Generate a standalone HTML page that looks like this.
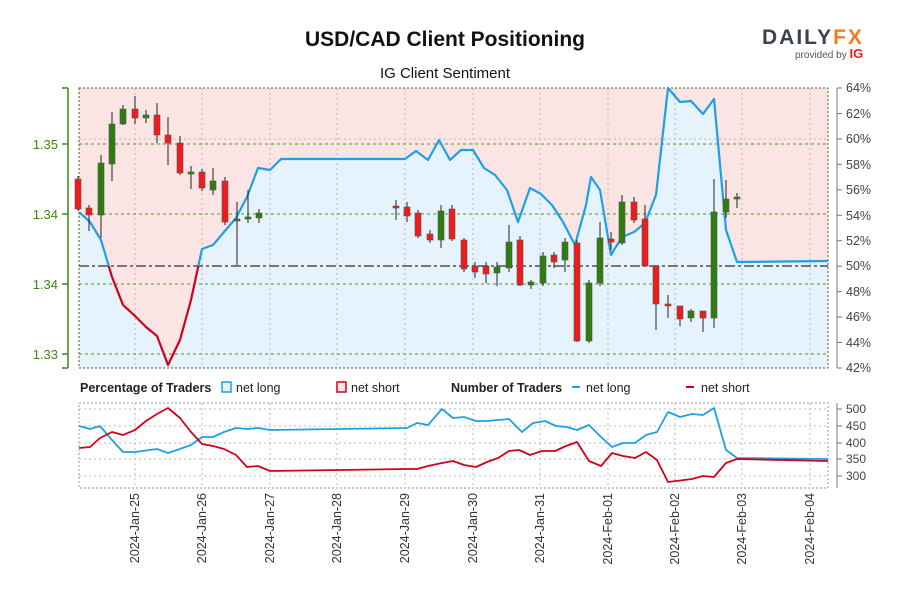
<!DOCTYPE html>
<html><head><meta charset="utf-8"><style>
body{margin:0;background:#fff;}
svg{display:block;font-family:"Liberation Sans Narrow","Liberation Sans",sans-serif;}
</style></head><body>
<svg width="900" height="600" viewBox="0 0 900 600" xmlns="http://www.w3.org/2000/svg">
<defs>
<clipPath id="above"><rect x="79" y="80" width="750" height="186"/></clipPath>
<clipPath id="below"><rect x="79" y="266" width="750" height="110"/></clipPath>
</defs>
<text x="445" y="46" text-anchor="middle" font-family="Liberation Sans,sans-serif" font-weight="bold" font-size="21" fill="#111">USD/CAD Client Positioning</text>
<text x="445" y="78" text-anchor="middle" font-family="Liberation Sans,sans-serif" font-size="15" fill="#111">IG Client Sentiment</text>
<text x="762" y="44" font-family="Liberation Sans,sans-serif" font-weight="bold" font-size="21" fill="#3c4250" letter-spacing="2">DAILY<tspan fill="#f47b20">FX</tspan></text>
<text x="795" y="58" font-family="Liberation Sans,sans-serif" font-size="10" fill="#555">provided by <tspan fill="#e2231a" font-weight="bold" font-size="13">IG</tspan></text>

<!-- main plot -->
<rect x="79" y="88" width="749" height="280" fill="#fbe4e4"/>
<polygon fill="#e6f3fc" points="79,212 90,222 101,240 112,277 123,305 135,316 146,327 157,336 168,365 180,340 191,300 202,249 213,245 224,232 236,218 247,197 258,168 270,170 281,159 405,159 416,151 428,160 439,140 450,160 461,150 473,150 484,168 495,175 507,190 518,222 530,188 541,194 552,205 563,222 575,245 586,205 591,177 600,190 611,255 622,237 634,232 645,223 656,195 668,88 680,102 691,101 703,114 714,99 726,230 737,262 828,261 828,368 79,368"/>
<g stroke="#bbb" stroke-dasharray="2,3" stroke-width="1">
<line x1="135" y1="88" x2="135" y2="368"/><line x1="202" y1="88" x2="202" y2="368"/><line x1="270" y1="88" x2="270" y2="368"/><line x1="337" y1="88" x2="337" y2="368"/><line x1="405" y1="88" x2="405" y2="368"/><line x1="473" y1="88" x2="473" y2="368"/><line x1="540" y1="88" x2="540" y2="368"/><line x1="608" y1="88" x2="608" y2="368"/><line x1="675" y1="88" x2="675" y2="368"/><line x1="742" y1="88" x2="742" y2="368"/><line x1="810" y1="88" x2="810" y2="368"/>
<line x1="79" y1="139" x2="828" y2="139"/>
</g>
<g stroke="#4a9a1a" stroke-dasharray="3,3" stroke-width="1">
<line x1="79" y1="144" x2="828" y2="144"/><line x1="79" y1="214" x2="828" y2="214"/><line x1="79" y1="284" x2="828" y2="284"/><line x1="79" y1="354" x2="828" y2="354"/>
</g>
<rect x="79" y="88" width="749" height="280" fill="none" stroke="#3a6a1a" stroke-dasharray="2,2" stroke-width="1"/>
<line x1="79" y1="266" x2="828" y2="266" stroke="#777" stroke-width="2" stroke-dasharray="10,3,3,3"/>
<g fill="none" stroke-width="2.2" stroke-linejoin="round">
<polyline clip-path="url(#above)" stroke="#1fa0e6" points="79,212 90,222 101,240 112,277 123,305 135,316 146,327 157,336 168,365 180,340 191,300 202,249 213,245 224,232 236,218 247,197 258,168 270,170 281,159 405,159 416,151 428,160 439,140 450,160 461,150 473,150 484,168 495,175 507,190 518,222 530,188 541,194 552,205 563,222 575,245 586,205 591,177 600,190 611,255 622,237 634,232 645,223 656,195 668,88 680,102 691,101 703,114 714,99 726,230 737,262 828,261"/>
<polyline clip-path="url(#below)" stroke="#d0021b" points="79,212 90,222 101,240 112,277 123,305 135,316 146,327 157,336 168,365 180,340 191,300 202,249 213,245 224,232 236,218 247,197 258,168 270,170 281,159 405,159 416,151 428,160 439,140 450,160 461,150 473,150 484,168 495,175 507,190 518,222 530,188 541,194 552,205 563,222 575,245 586,205 591,177 600,190 611,255 622,237 634,232 645,223 656,195 668,88 680,102 691,101 703,114 714,99 726,230 737,262 828,261"/>
</g>
<!-- candles -->
<g stroke="#222" stroke-width="1">
<line x1="78" y1="176" x2="78" y2="211"/><line x1="89" y1="205" x2="89" y2="231"/><line x1="101" y1="155" x2="101" y2="238"/><line x1="112" y1="112" x2="112" y2="181"/><line x1="123" y1="105" x2="123" y2="125"/><line x1="135" y1="96" x2="135" y2="124"/><line x1="146" y1="110" x2="146" y2="123"/><line x1="157" y1="103" x2="157" y2="143"/><line x1="168" y1="117" x2="168" y2="165"/><line x1="180" y1="136" x2="180" y2="175"/><line x1="191" y1="166" x2="191" y2="189"/><line x1="202" y1="169" x2="202" y2="191"/><line x1="213" y1="168" x2="213" y2="195"/><line x1="225" y1="177" x2="225" y2="225"/><line x1="237" y1="202" x2="237" y2="265"/><line x1="248" y1="190" x2="248" y2="223"/><line x1="259" y1="209" x2="259" y2="223"/>
<line x1="396" y1="200" x2="396" y2="220"/><line x1="407" y1="202" x2="407" y2="222"/><line x1="418" y1="210" x2="418" y2="238"/><line x1="430" y1="230" x2="430" y2="243"/><line x1="441" y1="205" x2="441" y2="248"/><line x1="452" y1="205" x2="452" y2="241"/><line x1="464" y1="238" x2="464" y2="272"/><line x1="475" y1="262" x2="475" y2="278"/><line x1="486" y1="262" x2="486" y2="283"/><line x1="497" y1="262" x2="497" y2="286"/><line x1="509" y1="225" x2="509" y2="272"/><line x1="520" y1="236" x2="520" y2="286"/><line x1="531" y1="280" x2="531" y2="289"/><line x1="543" y1="252" x2="543" y2="286"/><line x1="554" y1="252" x2="554" y2="268"/><line x1="565" y1="238" x2="565" y2="272"/><line x1="577" y1="240" x2="577" y2="342"/><line x1="589" y1="280" x2="589" y2="343"/><line x1="600" y1="222" x2="600" y2="286"/><line x1="611" y1="232" x2="611" y2="250"/><line x1="622" y1="195" x2="622" y2="245"/><line x1="634" y1="197" x2="634" y2="223"/><line x1="645" y1="205" x2="645" y2="266"/><line x1="656" y1="266" x2="656" y2="330"/><line x1="668" y1="295" x2="668" y2="318"/><line x1="680" y1="306" x2="680" y2="326"/><line x1="691" y1="309" x2="691" y2="322"/><line x1="703" y1="311" x2="703" y2="332"/><line x1="714" y1="179" x2="714" y2="328"/><line x1="726" y1="180" x2="726" y2="218"/><line x1="737" y1="193" x2="737" y2="208"/>
</g>
<g stroke="#555" stroke-width="0.6">
<g fill="#ee1c1c">
<rect x="75" y="179" width="6" height="30"/><rect x="86" y="208" width="6" height="7"/><rect x="132" y="109" width="6" height="9"/><rect x="154" y="115" width="6" height="20"/><rect x="165" y="135" width="6" height="8"/><rect x="177" y="143" width="6" height="30"/><rect x="199" y="172" width="6" height="16"/><rect x="222" y="181" width="6" height="41"/>
<rect x="393" y="206" width="6" height="2"/><rect x="404" y="207" width="6" height="9"/><rect x="415" y="213" width="6" height="23"/><rect x="427" y="234" width="6" height="6"/><rect x="449" y="209" width="6" height="30"/><rect x="461" y="240" width="6" height="29"/><rect x="472" y="266" width="6" height="6"/><rect x="483" y="266" width="6" height="8"/><rect x="517" y="240" width="6" height="45"/><rect x="551" y="255" width="6" height="7"/><rect x="574" y="243" width="6" height="98"/><rect x="608" y="239" width="6" height="3"/><rect x="631" y="202" width="6" height="18"/><rect x="642" y="219" width="6" height="47"/><rect x="653" y="266" width="6" height="38"/><rect x="665" y="304" width="6" height="2"/><rect x="677" y="306" width="6" height="13"/><rect x="700" y="311" width="6" height="7"/>
</g>
<g fill="#2e7d0e">
<rect x="98" y="163" width="6" height="52"/><rect x="109" y="124" width="6" height="40"/><rect x="120" y="109" width="6" height="15"/><rect x="143" y="115" width="6" height="3"/><rect x="188" y="172" width="6" height="2"/><rect x="210" y="181" width="6" height="9"/><rect x="234" y="219" width="6" height="2"/><rect x="245" y="217" width="6" height="2"/><rect x="256" y="213" width="6" height="5"/>
<rect x="438" y="211" width="6" height="29"/><rect x="494" y="267" width="6" height="6"/><rect x="506" y="242" width="6" height="26"/><rect x="528" y="282" width="6" height="3"/><rect x="540" y="256" width="6" height="27"/><rect x="562" y="242" width="6" height="18"/><rect x="586" y="283" width="6" height="58"/><rect x="597" y="238" width="6" height="45"/><rect x="619" y="202" width="6" height="41"/><rect x="688" y="311" width="6" height="7"/><rect x="711" y="212" width="6" height="106"/><rect x="723" y="199" width="6" height="13"/><rect x="734" y="197" width="6" height="2"/>
</g></g>
<!-- left axis -->
<g stroke="#3a8a12" stroke-width="1.5"><line x1="68" y1="88" x2="68" y2="368"/><line x1="62" y1="88" x2="68" y2="88"/><line x1="62" y1="368" x2="68" y2="368"/><line x1="62" y1="144" x2="68" y2="144"/><line x1="62" y1="214" x2="68" y2="214"/><line x1="62" y1="284" x2="68" y2="284"/><line x1="62" y1="354" x2="68" y2="354"/></g>
<g fill="#3a8a12" font-size="13" text-anchor="end"><text x="58" y="149">1.35</text><text x="58" y="219">1.34</text><text x="58" y="289">1.34</text><text x="58" y="359">1.33</text></g>
<!-- right axis -->
<g stroke="#777" stroke-width="1"><line x1="837" y1="88" x2="837" y2="368"/>
<line x1="837" y1="88" x2="842" y2="88"/><line x1="837" y1="113.5" x2="842" y2="113.5"/><line x1="837" y1="139" x2="842" y2="139"/><line x1="837" y1="164.4" x2="842" y2="164.4"/><line x1="837" y1="189.8" x2="842" y2="189.8"/><line x1="837" y1="215.3" x2="842" y2="215.3"/><line x1="837" y1="240.7" x2="842" y2="240.7"/><line x1="837" y1="266.2" x2="842" y2="266.2"/><line x1="837" y1="291.6" x2="842" y2="291.6"/><line x1="837" y1="317" x2="842" y2="317"/><line x1="837" y1="342.5" x2="842" y2="342.5"/><line x1="837" y1="368" x2="842" y2="368"/></g>
<g fill="#444" font-size="12.5"><text x="846" y="92">64%</text><text x="846" y="118">62%</text><text x="846" y="143">60%</text><text x="846" y="169">58%</text><text x="846" y="194">56%</text><text x="846" y="220">54%</text><text x="846" y="245">52%</text><text x="846" y="270">50%</text><text x="846" y="296">48%</text><text x="846" y="321">46%</text><text x="846" y="347">44%</text><text x="846" y="372">42%</text></g>

<!-- legend -->
<g font-size="12.5" fill="#222">
<text x="80" y="392" font-weight="bold">Percentage of Traders</text>
<rect x="222" y="382" width="9" height="10" fill="#e6f3fc" stroke="#1fa0e6" stroke-width="1.5"/><text x="236" y="392">net long</text>
<rect x="337" y="382" width="9" height="10" fill="#fbe4e4" stroke="#d0021b" stroke-width="1.5"/><text x="351" y="392">net short</text>
<text x="451" y="392" font-weight="bold">Number of Traders</text>
<line x1="572" y1="387" x2="580" y2="387" stroke="#1fa0e6" stroke-width="2"/><text x="586" y="392">net long</text>
<line x1="686" y1="387" x2="694" y2="387" stroke="#d0021b" stroke-width="2"/><text x="701" y="392">net short</text>
</g>

<!-- bottom chart -->
<g stroke="#bbb" stroke-dasharray="2,3" stroke-width="1">
<line x1="79" y1="409" x2="828" y2="409"/><line x1="79" y1="426" x2="828" y2="426"/><line x1="79" y1="443" x2="828" y2="443"/><line x1="79" y1="459" x2="828" y2="459"/><line x1="79" y1="476" x2="828" y2="476"/>
<line x1="135" y1="403" x2="135" y2="488"/><line x1="202" y1="403" x2="202" y2="488"/><line x1="270" y1="403" x2="270" y2="488"/><line x1="337" y1="403" x2="337" y2="488"/><line x1="405" y1="403" x2="405" y2="488"/><line x1="473" y1="403" x2="473" y2="488"/><line x1="540" y1="403" x2="540" y2="488"/><line x1="608" y1="403" x2="608" y2="488"/><line x1="675" y1="403" x2="675" y2="488"/><line x1="742" y1="403" x2="742" y2="488"/><line x1="810" y1="403" x2="810" y2="488"/>
</g>
<rect x="79" y="403" width="749" height="85" fill="none" stroke="#999" stroke-dasharray="2,2"/>
<g fill="none" stroke-width="1.8" stroke-linejoin="round">
<polyline stroke="#1fa0e6" points="79,426 90,429 100,426 112,440 123,452 135,452 157,449 168,453 180,449 191,445 202,437 213,437 224,432 236,428 247,429 258,428 270,430 407,428 417,423 428,425 442,409 453,418 464,417 476,421 487,421 509,419 522,432 533,423 545,421 556,426 567,427 577,430 589,425 601,437 612,447 623,443 635,443 646,435 657,432 668,412 680,417 692,414 703,415 714,408 726,450 737,458 828,459"/>
<polyline stroke="#d0021b" points="79,448 90,447 100,438 112,432 123,435 135,430 146,421 157,414 168,408 180,418 191,432 202,444 213,446 224,449 236,455 247,467 258,466 270,471 407,469 417,469 428,466 442,463 453,461 464,465 476,467 487,462 498,458 509,451 519,450 530,455 542,451 555,451 566,446 577,442 589,461 601,466 612,453 623,456 635,458 646,452 657,460 668,482 692,479 703,476 714,477 726,463 737,459 828,461"/>
</g>
<g stroke="#777"><line x1="837" y1="403" x2="837" y2="488"/><line x1="837" y1="409" x2="842" y2="409"/><line x1="837" y1="426" x2="842" y2="426"/><line x1="837" y1="443" x2="842" y2="443"/><line x1="837" y1="459" x2="842" y2="459"/><line x1="837" y1="476" x2="842" y2="476"/></g>
<g fill="#444" font-size="12"><text x="846" y="413">500</text><text x="846" y="430">450</text><text x="846" y="447">400</text><text x="846" y="463">350</text><text x="846" y="480">300</text></g>
<g fill="#333" font-size="12.5" text-anchor="end">
<text transform="translate(139,493) rotate(-90)">2024-Jan-25</text>
<text transform="translate(206,493) rotate(-90)">2024-Jan-26</text>
<text transform="translate(274,493) rotate(-90)">2024-Jan-27</text>
<text transform="translate(341,493) rotate(-90)">2024-Jan-28</text>
<text transform="translate(409,493) rotate(-90)">2024-Jan-29</text>
<text transform="translate(477,493) rotate(-90)">2024-Jan-30</text>
<text transform="translate(544,493) rotate(-90)">2024-Jan-31</text>
<text transform="translate(612,493) rotate(-90)">2024-Feb-01</text>
<text transform="translate(679,493) rotate(-90)">2024-Feb-02</text>
<text transform="translate(746,493) rotate(-90)">2024-Feb-03</text>
<text transform="translate(814,493) rotate(-90)">2024-Feb-04</text>
</g>
</svg>
</body></html>
